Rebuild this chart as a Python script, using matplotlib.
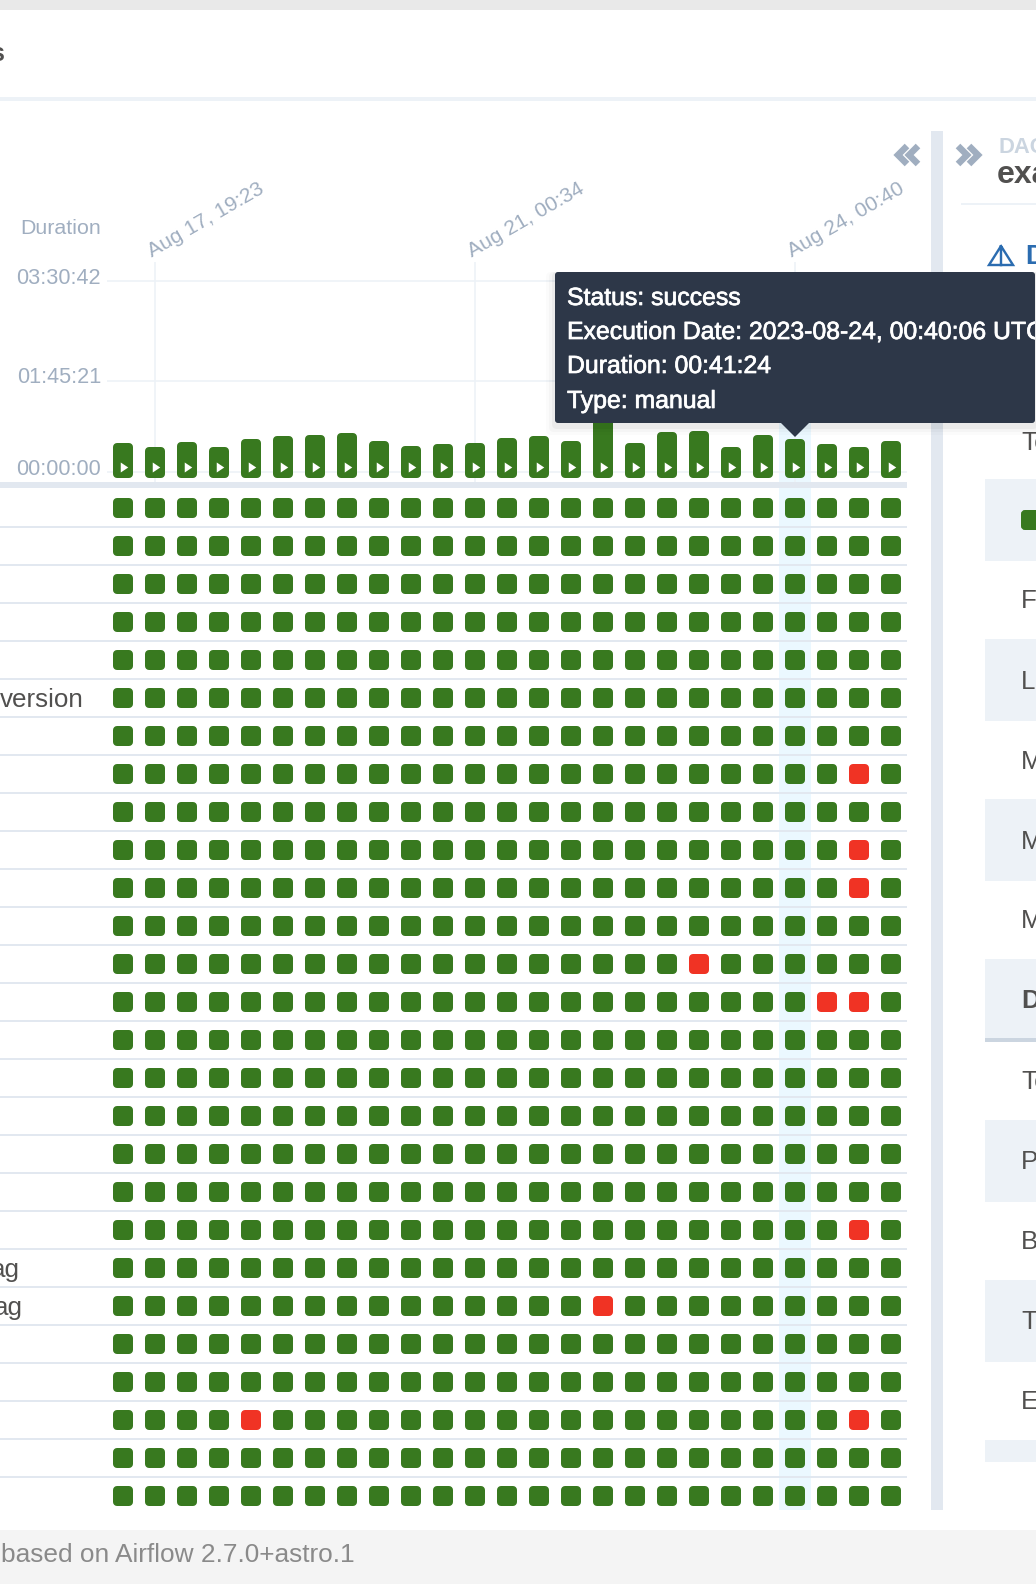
import numpy as np
import matplotlib
matplotlib.use("Agg")
import matplotlib.pyplot as plt
from matplotlib.patches import Rectangle, FancyBboxPatch, Polygon
from matplotlib.transforms import ScaledTranslation
import matplotlib.patheffects as pe

# ---------- data ----------
durations_sec = [2212, 1960, 2276, 1960, 2465, 2655, 2718, 2844, 2339, 2023, 2149, 2212, 2528,
                 2655, 2339, 3793, 2212, 2908, 2971, 1960, 2718, 2484, 2149, 1960, 2339]
duration_tick_pos = [348, 6131, 12453]
duration_tick_labels = ["00:00:00", "01:45:21", "03:30:42"]
date_tick_runs = [1, 11, 21]
date_tick_labels = ["Aug 17, 19:23", "Aug 21, 00:34", "Aug 24, 00:40"]
n_tasks = 27
failed_rows = [7, 9, 10, 12, 13, 13, 19, 21, 24, 24]
failed_cols = [23, 23, 23, 18, 22, 23, 23, 15, 4, 23]
row_label_rows = [5, 20, 21]
row_label_text = ["version", "ag", "ag"]
selected_run = 21
tooltip_lines = ["Status: success", "Execution Date: 2023-08-24, 00:40:06 UTC",
                 "Duration: 00:41:24", "Type: manual"]
panel_rows = ["To", "", "F", "L", "M", "M", "M", "D", "To", "P", "B", "Tr", "E"]

# ---------- layout ----------
W, H = 1036, 1584
DPI = 100
PX = 72 / DPI
FONT = "Liberation Sans"
plt.rcParams["font.family"] = [FONT, "DejaVu Sans"]
GREEN, RED = "#38791F", "#F03324"
GRID, LINE, AXIS_TXT, DARK = "#EDF2F7", "#E2E8F0", "#A0AEC0", "#51504F"
HILITE = "#EBF8FF"
X0, STEP = 123, 32
SEC_PER_PX = 6321 / 100
R = 4  # corner radius of cells, px

fig = plt.figure(figsize=(W / DPI, H / DPI), dpi=DPI, facecolor="white")


def axes_px(x0, y0, x1, y1, z):
    a = fig.add_axes([x0 / W, 1 - y1 / H, (x1 - x0) / W, (y1 - y0) / H], zorder=z)
    a.patch.set_alpha(0)
    return a


def run_x(px):
    return (px - X0) / STEP


# chrome behind
back = axes_px(0, 0, W, H, 0)
back.set_xlim(0, W); back.set_ylim(H, 0); back.axis("off")
for x, y, w, h, c in [(0, 0, W, 10, "#E9E9E9"), (0, 97, W, 4, GRID), (0, 1530, W, 54, "#F4F4F4"),
                      (0, 482, 907, 6, LINE), (931, 131, 12, 1379, LINE), (961, 203, 75, 2, GRID)]:
    back.add_patch(Rectangle((x, y), w, h, fc=c, ec="none"))
for y0, h in zip([479, 639, 799, 959, 1120, 1280, 1440], [82, 82, 82, 79, 82, 82, 22]):
    back.add_patch(Rectangle((985, y0), 51, h, fc=GRID, ec="none"))
back.add_patch(Rectangle((985, 1038), 51, 4, fc="#CBD5E0", ec="none"))
back.add_patch(FancyBboxPatch((1022, 511), 22, 18, boxstyle="round,pad=0,rounding_size=3", fc=GREEN, ec=GREEN, lw=2 * PX))
for x_pts in ([907, 898, 907], [918, 909, 918], [958, 967, 958], [969, 978, 969]):
    back.plot(x_pts, [146, 155, 164], color=AXIS_TXT, lw=6.5 * PX, solid_joinstyle="miter", solid_capstyle="butt")
back.plot([1001, 1013, 989, 1001, 1001], [246, 265, 265, 246, 265], color="#2B6CB0", lw=2.4 * PX, solid_joinstyle="miter")
back.text(-10, 54, "s", ha="left", va="center", fontsize=25 * PX, color=DARK, fontweight="bold")
back.text(1, 1555, "based on Airflow 2.7.0+astro.1", ha="left", va="center", fontsize=26.3 * PX, color="#8A8A8A")
back.text(998, 153, "DAG", ha="left", va="baseline", fontsize=22 * PX, color="#CBD5E0", fontweight="bold")
back.text(997, 183, "exa", ha="left", va="baseline", fontsize=32 * PX, color=DARK, fontweight="bold")
back.text(1025, 264, "D", ha="left", va="baseline", fontsize=27 * PX, color="#2B6CB0", fontweight="bold")
for txt, y in zip(panel_rows, [443, 522, 601, 682, 762, 842, 921, 1001, 1082, 1162, 1242, 1322, 1402]):
    if txt:
        back.text(1021, y, txt, ha="left", va="center", fontsize=26 * PX, color=DARK,
                  fontweight="bold" if txt == "D" else "normal")

# duration chart
dur = axes_px(107, 262, 907, 482, 1)
dur.set_xlim(run_x(107), run_x(907))
dur.set_ylim(-4 * SEC_PER_PX, 216 * SEC_PER_PX)
for s in dur.spines.values():
    s.set_visible(False)
dur.axvspan(selected_run - 0.5, selected_run + 0.5, ymin=0, ymax=0.29, color=HILITE, lw=0, zorder=0)
dur.set_yticks(duration_tick_pos, duration_tick_labels)
dur.xaxis.tick_top()
dur.set_xticks(date_tick_runs, date_tick_labels)
dur.grid(True, color=GRID, lw=1.6 * PX, zorder=1)
dur.set_axisbelow(True)
dur.tick_params(axis="both", length=0, labelcolor=AXIS_TXT)
dur.tick_params(axis="x", pad=1 * PX, labelsize=21 * PX)
dur.tick_params(axis="y", pad=6 * PX, labelsize=21.6 * PX)
for lab in dur.get_xticklabels():
    lab.set_rotation(30)
    lab.set_ha("left")
    lab.set_va("bottom")
    lab.set_rotation_mode("anchor")
    lab.set_transform(lab.get_transform() + ScaledTranslation(-1 / DPI, 0, fig.dpi_scale_trans))
for lab, dy in zip(dur.get_yticklabels(), [5, 6, 5]):
    lab.set_transform(lab.get_transform() + ScaledTranslation(0, dy / DPI, fig.dpi_scale_trans))
fig.text(101 / W, 1 - 228 / H, "Duration", ha="right", va="center", fontsize=21.4 * PX, color=AXIS_TXT)

runs = np.arange(len(durations_sec))
inset = R * SEC_PER_PX
dur.bar(runs, np.array(durations_sec) - 2 * inset, bottom=inset, width=(20 - 2 * R) / STEP, color=GREEN,
        edgecolor=GREEN, linewidth=2 * R * PX, joinstyle="round", zorder=3)
dur.scatter(runs + 0.02, np.full(len(runs), 11.5 * SEC_PER_PX),
            marker=[(-0.75, -1), (-0.75, 1), (0.75, 0)], s=(10 * PX) ** 2, color="white", lw=0, zorder=4)

# task grid
grid = axes_px(0, 488, 907, 1510, 1)
grid.set_xlim(run_x(0), run_x(907))
grid.set_ylim((1510 - 508) / 38, (488 - 508) / 38)
grid.axis("off")
grid.axvspan(selected_run - 0.5, selected_run + 0.5, color=HILITE, lw=0, zorder=0)
grid.hlines(np.arange(n_tasks - 1) + 0.5, run_x(0), run_x(907), color=LINE, lw=2 * PX, zorder=1)
status = np.zeros((n_tasks, len(runs)), dtype=int)
status[failed_rows, failed_cols] = 1
rr, cc = np.indices(status.shape)
grid.scatter(cc.ravel(), rr.ravel(), marker="s", s=((20 - 2 * R) * PX) ** 2,
             c=np.where(status.ravel() == 1, RED, GREEN), edgecolors=np.where(status.ravel() == 1, RED, GREEN),
             linewidths=2 * R * PX, joinstyle="round", zorder=3, clip_on=False)
for r, t, end_px in zip(row_label_rows, row_label_text, [84, 20, 22.5]):
    grid.text(run_x(end_px), r + 0.06, t, ha="right", va="center", fontsize=26 * PX, color=DARK, clip_on=False)

# tooltip on top
front = axes_px(0, 0, W, H, 5)
front.set_xlim(0, W); front.set_ylim(H, 0); front.axis("off")
for grow, a in [(9, 0.015), (6, 0.025), (3, 0.04)]:
    front.add_patch(FancyBboxPatch((555 - grow, 272), 480 + 2 * grow, 151 + grow + 3,
                                   boxstyle="round,pad=0,rounding_size=5", fc="black", ec="none", alpha=a))
front.add_patch(FancyBboxPatch((555, 272), 480, 151, boxstyle="round,pad=0,rounding_size=3", fc="#2D3748", ec="none"))
tip_x = X0 + STEP * selected_run
front.add_patch(Polygon([(tip_x - 14, 423), (tip_x + 14, 423), (tip_x, 437)], closed=True, fc="#2D3748", ec="none"))
txt_clip = Rectangle((555, 272), 480, 151, transform=front.transData)
for line, y in zip(tooltip_lines, [298, 332, 366, 401]):
    t = front.text(567, y, line, ha="left", va="center", fontsize=24.8 * PX, color="white")
    t.set_path_effects([pe.withStroke(linewidth=0.5, foreground="white")])
    t.set_clip_path(txt_clip)
    t.set_clip_on(True)

fig.savefig("out.png", dpi=DPI, facecolor="white")
